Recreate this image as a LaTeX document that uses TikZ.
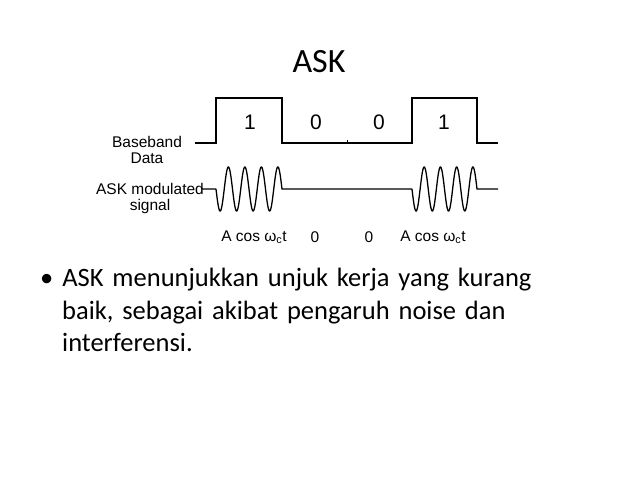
\documentclass[tikz,border=0pt]{standalone}
\usepackage{fontspec}
\setmainfont{Carlito}
\newfontfamily\arialf{Liberation Sans}
\newcommand\wct{A cos ω\textsubscript{c}t}
\begin{document}
\begin{tikzpicture}[x=1pt,y=-1pt,
  sig/.style={line width=1.3pt,black},
  lab/.style={font=\arialf\fontsize{15.5}{16}\selectfont,align=center,inner sep=0pt},
  bit/.style={font=\arialf\fontsize{21}{22}\selectfont,inner sep=0pt}]
\useasboundingbox (0,0) rectangle (638,478);
\node[font=\fontsize{34}{36}\selectfont] (title) at (319,62) {ASK};
% baseband
\draw[sig] (195,143) -- (216,143) -- (216,98) -- (282,98) -- (282,143) -- (412,143) -- (412,98) -- (477,98) -- (477,143) -- (498,143);
\draw[sig,line width=0.6pt] (347,143) -- (347,140);
\node[bit] (b1) at (250,122) {1};
\node[bit] (b2) at (316,122) {0};
\node[bit] (b3) at (379,122) {0};
\node[bit] (b4) at (444,122) {1};
% ASK
\draw[sig] (201,189) -- (216,189)
  plot[domain=0:66,samples=160,smooth] ({216+\x},{189+22*sin(21.818*\x)})
  -- (282,189) -- (412,189)
  plot[domain=0:65,samples=160,smooth] ({412+\x},{189+22*sin(22.154*\x)})
  -- (477,189) -- (498,189);
\node[lab] (bd) at (147,150) {Baseband\\Data};
\node[lab] (am) at (150,198) {ASK modulated\\signal};
\node[lab] (l1) at (254,237) {\wct};
\node[lab] (l2) at (315,237) {0};
\node[lab] (l3) at (369,237) {0};
\node[lab] (l4) at (433,237) {\wct};
\node[font=\fontsize{26.5}{32.5}\selectfont,anchor=north west,align=left,inner sep=0pt,text width=560pt] (txt) at (40,268)
 {\raggedright\textbullet\hspace{9pt}ASK menunjukkan unjuk kerja yang kurang\\
  \hspace*{22pt}baik, sebagai akibat pengaruh noise dan\\
  \hspace*{22pt}interferensi.};
\end{tikzpicture}
\end{document}
